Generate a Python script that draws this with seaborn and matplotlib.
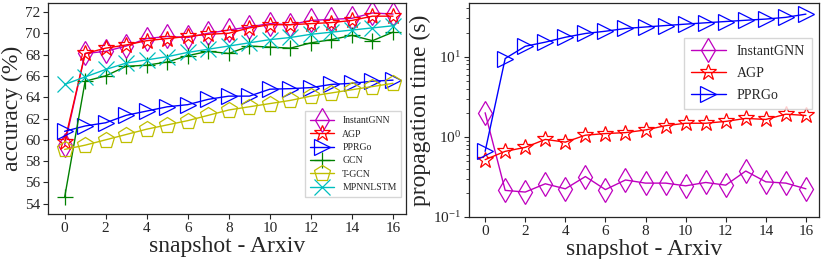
import numpy as np
import matplotlib
matplotlib.use("Agg")
import matplotlib.pyplot as plt
import seaborn as sns

snapshots = list(range(17))

# accuracy (%) per snapshot
acc_instantgnn = [59.5, 68.1, 68.3, 68.8, 69.5, 69.7, 69.6, 70.0, 70.3, 70.6, 70.9, 70.8, 71.2, 71.3, 71.4, 71.9, 71.8]
acc_agp = [59.8, 68.1, 68.6, 68.9, 69.3, 69.5, 69.7, 69.9, 70.0, 70.5, 70.8, 70.8, 70.9, 71.0, 71.2, 71.6, 71.6]
acc_pprgo = [60.8, 61.3, 61.6, 62.3, 62.7, 63.1, 63.3, 63.8, 64.1, 64.1, 64.75, 64.8, 64.9, 65.2, 65.3, 65.5, 65.6]
acc_gcn = [54.6, 65.5, 66.0, 66.9, 67.0, 67.3, 67.9, 68.3, 68.1, 68.8, 68.7, 68.6, 69.1, 69.4, 69.8, 69.3, 70.1]
acc_tgcn = [59.1, 59.5, 60.0, 60.5, 61.0, 61.4, 61.8, 62.3, 62.8, 63.1, 63.4, 63.7, 64.1, 64.4, 64.7, 65.0, 65.3]
acc_mpnnlstm = [65.2, 65.9, 66.6, 67.2, 67.5, 67.8, 68.2, 68.5, 68.8, 69.1, 69.4, 69.6, 69.9, 70.1, 70.3, 70.5, 70.7]

# propagation time (s) per snapshot
time_instantgnn = [2.0, 0.215, 0.205, 0.26, 0.225, 0.32, 0.22, 0.29, 0.265, 0.265, 0.245, 0.27, 0.25, 0.375, 0.275, 0.265, 0.225]
time_agp = [0.52, 0.66, 0.74, 0.93, 0.86, 1.05, 1.1, 1.13, 1.22, 1.38, 1.48, 1.48, 1.56, 1.7, 1.65, 1.92, 1.85]
time_pprgo = [0.66, 9.5, 13.5, 15.2, 17.5, 19.5, 20.8, 22.5, 23.5, 24.5, 25.5, 26.5, 27.5, 28.5, 29.5, 31.0, 34.0]

sns.set_style("ticks")
plt.rcParams["font.family"] = ["Liberation Serif", "DejaVu Serif"]
plt.rcParams["mathtext.fontset"] = "stix"

fig = plt.figure(figsize=(8.31, 2.59), dpi=100)
ax1 = fig.add_axes([0.058, 0.172, 0.431, 0.817])
ax2 = fig.add_axes([0.5645, 0.162, 0.421, 0.827])

left_series = [
    ("InstantGNN", acc_instantgnn, "m", "d"),
    ("AGP", acc_agp, "r", "*"),
    ("PPRGo", acc_pprgo, "b", ">"),
    ("GCN", acc_gcn, "g", "+"),
    ("T-GCN", acc_tgcn, "y", "p"),
    ("MPNNLSTM", acc_mpnnlstm, "c", "x"),
]
for name, vals, col, mk in left_series:
    sns.lineplot(x=snapshots, y=vals, ax=ax1, color=col, marker=mk, markersize=12,
                 mfc="none", mec=col, mew=0.9, lw=1, label=name)

right_series = [
    ("InstantGNN", time_instantgnn, "m", "d"),
    ("AGP", time_agp, "r", "*"),
    ("PPRGo", time_pprgo, "b", ">"),
]
for name, vals, col, mk in right_series:
    sns.lineplot(x=snapshots, y=vals, ax=ax2, color=col, marker=mk, markersize=12,
                 mfc="none", mec=col, mew=0.9, lw=1, label=name)

ax1.set_xlim(-0.8, 16.65)
ax1.set_ylim(53.0, 72.85)
ax1.set_xticks(range(0, 17, 2))
ax1.set_yticks(range(54, 73, 2))
ax1.set_xlabel("snapshot - Arxiv", fontsize=17, labelpad=1)
ax1.set_ylabel("accuracy (%)", fontsize=17, labelpad=2)
ax1.tick_params(labelsize=11, length=3.5, pad=2)
ax1.legend(loc="lower right", bbox_to_anchor=(1.0, 0.06), fontsize=7, frameon=True,
           fancybox=False, borderpad=0.5, handlelength=2.5, labelspacing=0.45)

ax2.set_yscale("log")
ax2.set_xlim(-0.8, 16.65)
ax2.set_ylim(0.1, 47)
ax2.set_xticks(range(0, 17, 2))
ax2.set_xlabel("snapshot - Arxiv", fontsize=17, labelpad=1)
ax2.set_ylabel("propagation time (s)", fontsize=17, labelpad=2)
ax2.tick_params(labelsize=11, length=3.5, pad=2)
ax2.legend(loc="upper right", bbox_to_anchor=(1.0, 0.87), fontsize=10, frameon=True,
           fancybox=False, borderpad=0.5, handlelength=2.5, labelspacing=0.65)

for ax in (ax1, ax2):
    for sp in ax.spines.values():
        sp.set_linewidth(0.9)

fig.savefig("out.png", dpi=100)
